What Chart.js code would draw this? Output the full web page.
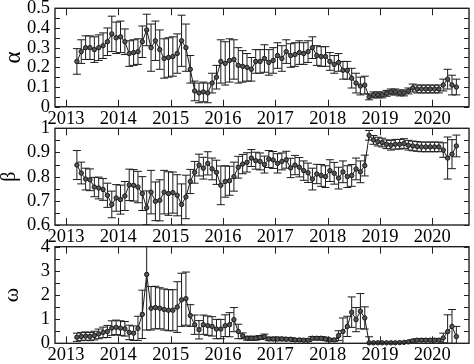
<!DOCTYPE html>
<html>
<head>
<meta charset="utf-8">
<script src="https://cdn.jsdelivr.net/npm/chart.js@4.4.1/dist/chart.umd.min.js"></script>
<style>
  html, body { margin: 0; padding: 0; background: #fff; }
  #wrap { position: relative; width: 474px; height: 364px; }
  #wrap canvas { position: absolute; left: 0; top: 0; }
</style>
</head>
<body>
<div id="wrap">
  <canvas id="alphaChart" width="474" height="364"></canvas>
  <canvas id="betaChart" width="474" height="364"></canvas>
  <canvas id="omegaChart" width="474" height="364"></canvas>
</div>
<script>
const months = [
  '2013-03','2013-04','2013-05','2013-06','2013-07','2013-08','2013-09','2013-10','2013-11','2013-12',
  '2014-01','2014-02','2014-03','2014-04','2014-05','2014-06','2014-07','2014-08','2014-09','2014-10','2014-11','2014-12',
  '2015-01','2015-02','2015-03','2015-04','2015-05','2015-06','2015-07','2015-08','2015-09','2015-10','2015-11','2015-12',
  '2016-01','2016-02','2016-03','2016-04','2016-05','2016-06','2016-07','2016-08','2016-09','2016-10','2016-11','2016-12',
  '2017-01','2017-02','2017-03','2017-04','2017-05','2017-06','2017-07','2017-08','2017-09','2017-10','2017-11','2017-12',
  '2018-01','2018-02','2018-03','2018-04','2018-05','2018-06','2018-07','2018-08','2018-09','2018-10','2018-11','2018-12',
  '2019-01','2019-02','2019-03','2019-04','2019-05','2019-06','2019-07','2019-08','2019-09','2019-10','2019-11','2019-12',
  '2020-01','2020-02','2020-03','2020-04','2020-05','2020-06'
];

const alpha = [
  0.23,0.28,0.30,0.30,0.29,0.30,0.31,0.33,0.37,0.35,0.355,0.33,
  0.27,0.275,0.28,0.33,0.39,0.30,0.335,0.29,0.245,0.25,0.255,0.27,
  0.335,0.30,0.19,0.08,0.07,0.075,0.07,0.12,0.15,0.23,0.22,0.235,
  0.24,0.21,0.205,0.20,0.19,0.23,0.23,0.245,0.225,0.235,0.26,0.245,
  0.28,0.26,0.265,0.275,0.27,0.28,0.30,0.26,0.255,0.255,0.23,0.215,
  0.225,0.185,0.185,0.145,0.12,0.105,0.11,0.05,0.06,0.06,0.06,0.068,
  0.075,0.075,0.07,0.07,0.08,0.095,0.09,0.09,0.09,0.09,0.09,0.09,
  0.11,0.14,0.11,0.10
];
const alphaErr = [
  0.065,0.06,0.06,0.06,0.065,0.065,0.065,0.07,0.09,0.08,0.08,0.065,
  0.065,0.065,0.065,0.08,0.08,0.12,0.1,0.1,0.1,0.1,0.1,0.1,
  0.13,0.12,0.07,0.05,0.05,0.05,0.05,0.05,0.06,0.11,0.11,0.11,
  0.1,0.09,0.08,0.07,0.06,0.06,0.06,0.07,0.065,0.065,0.065,0.065,
  0.06,0.06,0.06,0.06,0.055,0.055,0.055,0.05,0.05,0.05,0.045,0.045,
  0.045,0.045,0.045,0.05,0.05,0.045,0.045,0.015,0.015,0.015,0.015,0.015,
  0.015,0.015,0.015,0.015,0.015,0.02,0.02,0.02,0.02,0.02,0.02,0.02,
  0.03,0.05,0.05,0.04
];

const beta = [
  0.848,0.815,0.79,0.787,0.757,0.753,0.747,0.723,0.685,0.712,0.705,0.72,
  0.766,0.764,0.757,0.73,0.671,0.736,0.698,0.702,0.736,0.73,0.734,0.723,
  0.685,0.716,0.78,0.818,0.848,0.835,0.855,0.832,0.818,0.764,0.78,0.783,
  0.80,0.839,0.852,0.859,0.877,0.866,0.863,0.85,0.873,0.869,0.855,0.863,
  0.87,0.836,0.848,0.839,0.825,0.816,0.79,0.811,0.805,0.80,0.825,0.814,
  0.794,0.82,0.80,0.805,0.832,0.82,0.846,0.971,0.952,0.945,0.941,0.934,
  0.93,0.934,0.934,0.937,0.93,0.927,0.925,0.923,0.923,0.923,0.923,0.923,
  0.91,0.877,0.893,0.927
];
const betaErr = [
  0.06,0.045,0.045,0.045,0.04,0.045,0.045,0.05,0.055,0.055,0.06,0.06,
  0.065,0.065,0.065,0.07,0.07,0.09,0.08,0.085,0.09,0.09,0.085,0.085,
  0.085,0.09,0.05,0.045,0.045,0.045,0.048,0.045,0.05,0.08,0.065,0.06,
  0.06,0.045,0.04,0.04,0.035,0.035,0.035,0.035,0.035,0.035,0.04,0.035,
  0.035,0.04,0.04,0.04,0.04,0.04,0.045,0.04,0.045,0.045,0.045,0.045,
  0.045,0.045,0.045,0.045,0.045,0.045,0.043,0.02,0.018,0.018,0.018,0.018,
  0.02,0.02,0.02,0.02,0.02,0.02,0.02,0.02,0.02,0.02,0.02,0.02,
  0.03,0.087,0.06,0.045
];

const omega = [
  0.25,0.28,0.3,0.28,0.32,0.39,0.45,0.49,0.63,0.66,0.63,0.6,
  0.45,0.42,0.62,1.2,2.85,1.45,1.48,1.45,1.4,1.37,1.37,1.5,
  1.8,1.85,1.15,0.77,0.56,0.77,0.73,0.7,0.59,0.59,0.73,0.77,
  0.98,0.49,0.31,0.21,0.21,0.21,0.24,0.28,0.18,0.18,0.18,0.18,
  0.17,0.17,0.14,0.14,0.13,0.13,0.21,0.21,0.21,0.18,0.14,0.14,
  0.32,0.49,0.70,1.29,0.98,1.33,1.05,0.02,0.02,0.02,0.02,0.02,
  0.02,0.02,0.03,0.04,0.06,0.10,0.13,0.13,0.13,0.13,0.13,0.13,
  0.22,0.48,0.70,0.28
];
const omegaErr = [
  0.17,0.17,0.17,0.17,0.18,0.2,0.22,0.25,0.3,0.3,0.3,0.3,
  0.3,0.3,0.5,1.0,2.3,0.9,0.88,0.85,0.85,0.85,0.85,1.05,
  1.1,1.1,0.45,0.4,0.38,0.4,0.4,0.4,0.4,0.4,0.45,0.5,
  0.5,0.3,0.12,0.08,0.08,0.08,0.08,0.1,0.07,0.07,0.07,0.07,
  0.06,0.06,0.06,0.06,0.06,0.06,0.07,0.07,0.07,0.07,0.06,0.06,
  0.2,0.56,0.42,0.63,0.5,0.73,0.46,0.25,0.03,0.03,0.03,0.03,
  0.03,0.03,0.03,0.03,0.04,0.05,0.06,0.06,0.06,0.06,0.06,0.06,
  0.2,0.7,0.7,0.42
];

const xTicks = [2013, 2014, 2015, 2016, 2017, 2018, 2019, 2020];
const alphaTicks = [0, 0.1, 0.2, 0.3, 0.4, 0.5];
const betaTicks = [0.6, 0.7, 0.8, 0.9, 1];
const omegaTicks = [0, 1, 2, 3, 4];

Chart.defaults.font.family = "'Liberation Serif', 'Times New Roman', serif";
Chart.defaults.color = '#000';

function monthToYear(m) {
  const [y, mo] = m.split('-').map(Number);
  return y + (mo - 0.5) / 12;
}

const INK = '#1a1a1a';

// error bars drawn under the markers
const errorBars = {
  id: 'errorBars',
  beforeDatasetsDraw(chart) {
    const ds = chart.data.datasets[0];
    const xs = chart.scales.x, ys = chart.scales.y;
    const area = chart.chartArea;
    const ctx = chart.ctx;
    ctx.save();
    ctx.beginPath();
    ctx.rect(area.left, area.top, area.right - area.left, area.bottom - area.top);
    ctx.clip();
    ctx.strokeStyle = INK;
    ctx.lineWidth = 1;
    ds.data.forEach((p, i) => {
      const e = ds.errors[i];
      const px = xs.getPixelForValue(p.x);
      const top = ys.getPixelForValue(p.y + e);
      const bot = ys.getPixelForValue(p.y - e);
      ctx.beginPath();
      ctx.moveTo(px, top); ctx.lineTo(px, bot);
      ctx.moveTo(px - 4, top); ctx.lineTo(px + 4, top);
      ctx.moveTo(px - 4, bot); ctx.lineTo(px + 4, bot);
      ctx.stroke();
    });
    ctx.restore();
  }
};

// box frame with inward ticks on all sides
const frame = {
  id: 'frame',
  afterDraw(chart) {
    const {left, right, top, bottom} = chart.chartArea;
    const ctx = chart.ctx;
    const xs = chart.scales.x, ys = chart.scales.y;
    ctx.save();
    ctx.strokeStyle = '#222';
    ctx.lineWidth = 1.4;
    ctx.strokeRect(left, top, right - left, bottom - top);
    ctx.lineWidth = 1;
    ctx.beginPath();
    xs.ticks.forEach(t => {
      const px = Math.round(xs.getPixelForValue(t.value)) + 0.5;
      ctx.moveTo(px, bottom); ctx.lineTo(px, bottom - 7);
      ctx.moveTo(px, top); ctx.lineTo(px, top + 7);
    });
    const yv = ys.ticks.map(t => t.value);
    const marks = [];
    yv.forEach((v, i) => {
      marks.push(v);
      if (i < yv.length - 1) marks.push((v + yv[i + 1]) / 2);
    });
    marks.forEach(v => {
      const py = Math.round(ys.getPixelForValue(v)) + 0.5;
      ctx.moveTo(left, py); ctx.lineTo(left + 5, py);
      ctx.moveTo(right, py); ctx.lineTo(right - 5, py);
    });
    ctx.stroke();
    ctx.restore();
  }
};

function makePanel(id, title, titleSize, titleShift, values, errors, yTicks, top, bottom) {
  const ctx = document.getElementById(id).getContext('2d');
  return new Chart(ctx, {
    type: 'line',
    data: {
      datasets: [{
        data: months.map((m, i) => ({ x: monthToYear(m), y: values[i] })),
        errors: errors,
        borderColor: INK,
        borderWidth: 1,
        pointRadius: 2.2,
        pointBackgroundColor: '#555',
        pointBorderColor: INK,
        pointBorderWidth: 1,
        tension: 0,
        clip: false
      }]
    },
    options: {
      responsive: false,
      animation: false,
      devicePixelRatio: 1,
      layout: { padding: { left: 0, right: 2.3, top: top, bottom: 364 - bottom - 22 } },
      plugins: { legend: { display: false }, tooltip: { enabled: false } },
      scales: {
        x: {
          type: 'linear',
          min: 2012.79,
          max: 2020.7,
          afterBuildTicks: s => { s.ticks = xTicks.map(v => ({ value: v })); },
          afterFit: s => { s.height = 22; s.paddingLeft = 0; s.paddingRight = 0; },
          grid: { display: false, drawTicks: false },
          border: { display: false },
          ticks: { autoSkip: false, maxRotation: 0, padding: 1, font: { size: 18.5 }, callback: v => String(v) }
        },
        y: {
          min: yTicks[0],
          max: yTicks[yTicks.length - 1],
          afterBuildTicks: s => { s.ticks = yTicks.map(v => ({ value: v })); },
          afterFit: s => { s.width = 55; s.paddingTop = 0; s.paddingBottom = 0; },
          grid: { display: false, drawTicks: false },
          border: { display: false },
          ticks: { autoSkip: false, padding: 5, font: { size: 18.5 }, callback: v => String(v) },
          title: { display: true, text: title, font: { size: titleSize }, padding: { top: titleShift, bottom: 0 } }
        }
      }
    },
    plugins: [errorBars, frame]
  });
}

makePanel('alphaChart', 'α', 23, 0, alpha, alphaErr, alphaTicks, 8.3, 106.7);
makePanel('betaChart', 'β', 20, -2, beta, betaErr, betaTicks, 128.3, 225);
makePanel('omegaChart', 'ω', 22, -1, omega, omegaErr, omegaTicks, 246.7, 343.3);
</script>
</body>
</html>
